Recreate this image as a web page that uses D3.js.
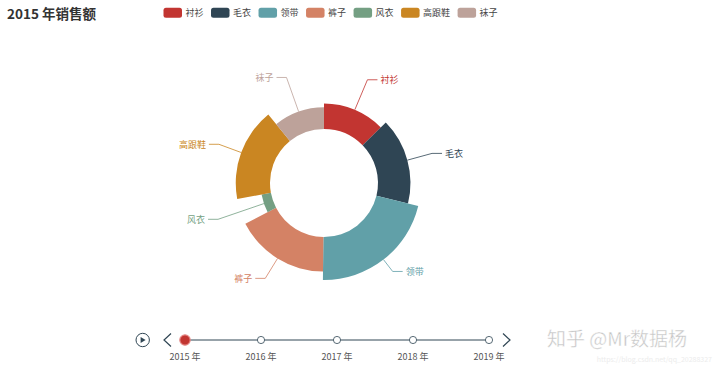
<!DOCTYPE html>
<html>
<head>
<meta charset="utf-8">
<script src="https://cdn.jsdelivr.net/npm/d3@7"></script>
<style>
  body { margin: 0; background: #fff; }
  text { font-family: "Noto Sans CJK SC", "Noto Sans", sans-serif; }
</style>
</head>
<body>
<div id="chart"></div>
<script>
const width = 720;
const height = 366;

// data
const title = "2015 年销售额";
const categories = ["衬衫", "毛衣", "领带", "裤子", "风衣", "高跟鞋", "袜子"];
const values = [70, 89, 118, 95, 26, 94, 60];
const years = ["2015 年", "2016 年", "2017 年", "2018 年", "2019 年"];
const currentYear = "2015 年";
const colors = ["#c23531", "#2f4554", "#61a0a8", "#d48265", "#749f83", "#ca8622", "#bda29a"];

const svg = d3.select("#chart").append("svg")
  .attr("width", width)
  .attr("height", height);

// title
svg.append("text")
  .attr("x", 7)
  .attr("y", 19)
  .style("font-size", "13.5px")
  .style("font-weight", "bold")
  .attr("fill", "#333")
  .text(title);

// legend, items laid out left to right
const color = d3.scaleOrdinal().domain(categories).range(colors);
let lx = 163.5;
const legend = svg.append("g");
categories.forEach(c => {
  const g = legend.append("g").attr("transform", `translate(${lx},0)`);
  g.append("rect")
    .attr("x", 0).attr("y", 7.8)
    .attr("width", 18.5).attr("height", 10)
    .attr("rx", 2.5)
    .attr("fill", color(c));
  const t = g.append("text")
    .attr("x", 22)
    .attr("y", 12.8)
    .attr("dominant-baseline", "central")
    .style("font-size", "9px")
    .attr("fill", "#444")
    .text(c);
  const w = t.node().getComputedTextLength();
  lx += 22 + w + 7.5;
});

// rose pie
const centre = { x: 324, y: 183 };
const rIn = 54, rOut = 97;
const radius = d3.scaleLinear()
  .domain([0, d3.max(values)])
  .range([rIn, rOut]);

const pie = d3.pie().sort(null).value(d => d.value);
const arcs = pie(categories.map((c, i) => ({ name: c, value: values[i] })));

const arc = d3.arc()
  .innerRadius(rIn)
  .outerRadius(d => radius(d.data.value));

const chart = svg.append("g")
  .attr("transform", `translate(${centre.x},${centre.y})`);

chart.selectAll(".slice")
  .data(arcs)
  .enter()
  .append("path")
  .attr("class", "slice")
  .attr("d", arc)
  .attr("fill", d => color(d.data.name));

// labels with leader lines
const lineR = rOut + 15;
const labels = chart.selectAll(".lbl")
  .data(arcs)
  .enter()
  .append("g");

labels.each(function(d) {
  const a = (d.startAngle + d.endAngle) / 2;
  const dx = Math.sin(a), dy = -Math.cos(a);
  const r = radius(d.data.value);
  const x1 = dx * r, y1 = dy * r;
  const x2 = dx * lineR, y2 = dy * lineR;
  const side = dx < 0 ? -1 : 1;
  const x3 = x2 + side * 10;
  const g = d3.select(this);
  g.append("polyline")
    .attr("points", [[x1, y1], [x2, y2], [x3, y2]].map(p => p.join(",")).join(" "))
    .attr("fill", "none")
    .attr("stroke", color(d.data.name))
    .attr("stroke-width", 0.8);
  g.append("text")
    .attr("x", x3 + side * 3)
    .attr("y", y2)
    .attr("dominant-baseline", "central")
    .attr("text-anchor", side < 0 ? "end" : "start")
    .style("font-size", "9px")
    .attr("fill", color(d.data.name))
    .text(d.data.name);
});

// timeline
const tlY = 340;
const tx = d3.scalePoint().domain(years).range([185, 489]);
const tl = svg.append("g");
const tlColor = "#304654";

tl.append("line")
  .attr("x1", tx(years[0])).attr("x2", tx(years[years.length - 1]))
  .attr("y1", tlY).attr("y2", tlY)
  .attr("stroke", tlColor)
  .attr("stroke-width", 1);

// play button
tl.append("circle")
  .attr("cx", 142.7).attr("cy", tlY).attr("r", 6.7)
  .attr("fill", "#fff")
  .attr("stroke", tlColor).attr("stroke-width", 1);
tl.append("path")
  .attr("d", `M${140.6},${tlY - 3}L${145.6},${tlY}L${140.6},${tlY + 3}Z`)
  .attr("fill", tlColor);

// prev / next arrows
tl.append("path")
  .attr("d", `M171,${tlY - 6.5}L164,${tlY}L171,${tlY + 6.5}`)
  .attr("fill", "none").attr("stroke", tlColor).attr("stroke-width", 1.2);
tl.append("path")
  .attr("d", `M503,${tlY - 6.5}L510,${tlY}L503,${tlY + 6.5}`)
  .attr("fill", "none").attr("stroke", tlColor).attr("stroke-width", 1.2);

tl.selectAll(".dot")
  .data(years)
  .enter()
  .append("circle")
  .attr("cx", d => tx(d))
  .attr("cy", tlY)
  .attr("r", d => d === currentYear ? 5.2 : 3.6)
  .attr("fill", d => d === currentYear ? "#c23531" : "#fff")
  .attr("stroke", d => d === currentYear ? "#e58a88" : tlColor)
  .attr("stroke-width", d => d === currentYear ? 1.2 : 0.8);

tl.selectAll(".tick")
  .data(years)
  .enter()
  .append("text")
  .attr("x", d => tx(d))
  .attr("y", 356)
  .attr("dominant-baseline", "central")
  .attr("text-anchor", "middle")
  .style("font-size", "9px")
  .attr("fill", "#555")
  .text(d => d);

// watermark
svg.append("text")
  .attr("x", 547)
  .attr("y", 337)
  .attr("dominant-baseline", "central")
  .style("font-size", "19px")
  .attr("fill", "#c4c4c4")
  .attr("stroke", "#fff")
  .attr("stroke-width", 0.4)
  .text("知乎 @Mr数据杨");
svg.append("text")
  .attr("x", 712)
  .attr("y", 359)
  .attr("dominant-baseline", "central")
  .attr("text-anchor", "end")
  .style("font-size", "7px")
  .attr("fill", "#ececec")
  .text("https://blog.csdn.net/qq_20288327");
</script>
</body>
</html>
